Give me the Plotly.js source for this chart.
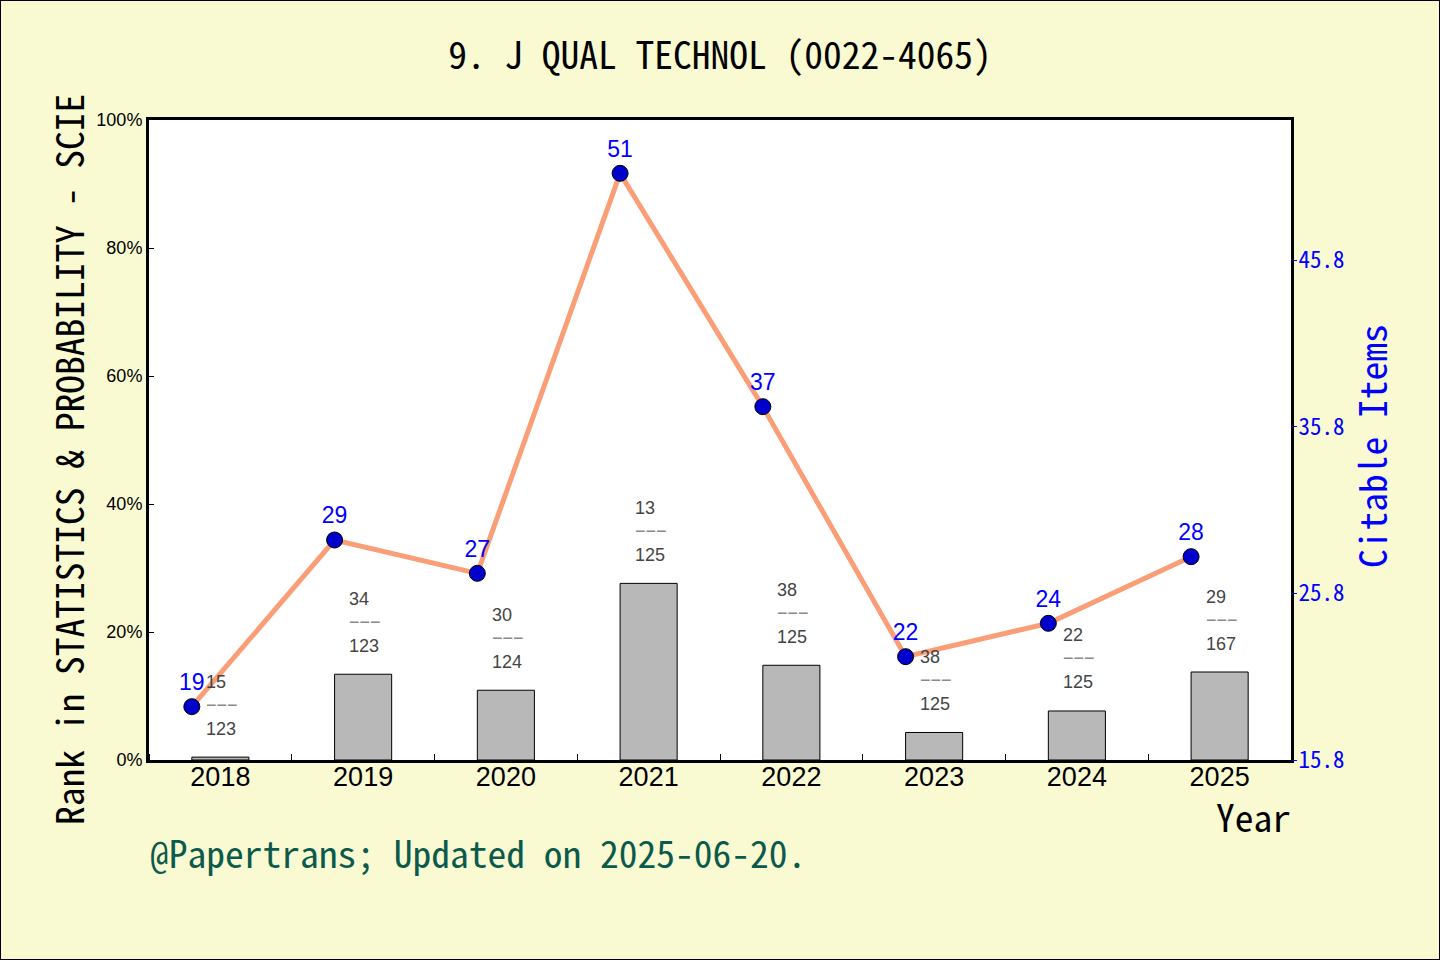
<!DOCTYPE html>
<html>
<head>
<meta charset="utf-8">
<script src="https://cdn.plot.ly/plotly-3.0.1.min.js"></script>
<style>
  html, body { margin: 0; padding: 0; background: #fafad2; }
  #wrap { position: relative; width: 1440px; height: 960px; }
  #chart { width: 1440px; height: 960px; }
  #frame { position: absolute; left: 0; top: 0; width: 1440px; height: 960px; box-sizing: border-box; border: 1px solid #000; pointer-events: none; }
</style>
</head>
<body>
<div id="wrap"><div id="chart"></div><div id="frame"></div></div>
<script>
// ---- data ----
const years = [2018, 2019, 2020, 2021, 2022, 2023, 2024, 2025];
const rankShare = [0.0045, 0.134, 0.109, 0.276, 0.148, 0.043, 0.0766, 0.1375];
const ranks = [15, 34, 30, 13, 38, 38, 22, 29];
const totals = [123, 123, 124, 125, 125, 125, 125, 167];
const citableItems = [19, 29, 27, 51, 37, 22, 24, 28];
const rightTicks = [15.8, 25.8, 35.8, 45.8];
const titleText = '9. J QUAL TECHNOL (0022-4065)';
const leftTitle = 'Rank in STATISTICS &amp; PROBABILITY - SCIE';
const rightTitle = 'Citable Items';
const footer = '@Papertrans; Updated on 2025-06-20.';

// ---- font detection ----
function hasFont(name) {
  const ctx = document.createElement('canvas').getContext('2d');
  const s = 'abcdefgWQ0123456789@;-';
  let diff = false;
  ['monospace', 'serif'].forEach(fb => {
    ctx.font = '40px ' + fb;
    const a = ctx.measureText(s).width;
    ctx.font = '40px "' + name + '", ' + fb;
    const b = ctx.measureText(s).width;
    if (a !== b) diff = true;
  });
  return diff;
}
const cjkMono = hasFont('Noto Sans Mono CJK SC');
const MONO = cjkMono ? '"Noto Sans Mono CJK SC", "DejaVu Sans Mono", monospace' : '"DejaVu Sans Mono", monospace';
const ms = s => cjkMono ? s : s * 0.5 / 0.602;
const SANS = '"Liberation Sans", Arial, sans-serif';

// ---- geometry of plot area ----
const L = 149, R = 1291, T = 120, B = 760, W = 1440, H = 960;
const px = x => (x - L) / (R - L);
const py = y => (B - y) / (B - T);

const barTrace = {
  type: 'bar', x: years, y: rankShare, width: 0.4,
  marker: { color: '#b8b8b8', line: { color: '#000', width: 1 } },
  hoverinfo: 'skip', showlegend: false
};
const lineTrace = {
  type: 'scatter', mode: 'lines+markers+text',
  x: years.map(v => v - 0.2), y: citableItems, yaxis: 'y2',
  line: { color: '#fa9e78', width: 5 },
  marker: { color: '#0000cd', size: 16, line: { color: '#000', width: 1 } },
  text: citableItems.map(String), textposition: 'top center',
  textfont: { family: SANS, size: 23, color: '#0000ff' },
  cliponaxis: false, showlegend: false, hoverinfo: 'skip'
};

const annotations = years.map((yr, i) => ({
  x: yr, y: rankShare[i], xref: 'x', yref: 'y',
  text: ranks[i] + '<br><span style="color:#8a8a8a">\u2212\u2212\u2212</span><br>' + totals[i],
  showarrow: false, xanchor: 'left', yanchor: 'middle', align: 'left',
  xshift: -16, yshift: 52,
  font: { family: SANS, size: 18, color: '#444' }
}));
annotations.push(
  { text: leftTitle, xref: 'paper', yref: 'paper', x: px(67), y: py(460), textangle: -90,
    showarrow: false, xanchor: 'center', yanchor: 'middle', font: { family: MONO, size: ms(37.5), color: '#000' } },
  { text: rightTitle, xref: 'paper', yref: 'paper', x: px(1370), y: py(446), textangle: -90,
    showarrow: false, xanchor: 'center', yanchor: 'middle', font: { family: MONO, size: ms(37.5), color: '#0000ff' } },
  { text: 'Year', xref: 'paper', yref: 'paper', x: px(1293), y: py(815),
    showarrow: false, xanchor: 'right', yanchor: 'middle', font: { family: MONO, size: ms(37.5), color: '#000' } },
  { text: footer, xref: 'paper', yref: 'paper', x: px(148), y: py(851),
    showarrow: false, xanchor: 'left', yanchor: 'middle', font: { family: MONO, size: ms(37.5), color: '#0b5a4b' } }
);

const layout = {
  width: W, height: H,
  margin: { l: L, r: W - R, t: T, b: H - B, pad: 0 },
  paper_bgcolor: '#fafad2', plot_bgcolor: '#ffffff',
  title: { text: titleText, x: 0.5, xref: 'container', y: 1 - 56 / H, yref: 'container', yanchor: 'middle', xanchor: 'center',
           font: { family: MONO, size: ms(37.5), color: '#000' } },
  showlegend: false,
  xaxis: {
    range: [2017.5, 2025.5], tickvals: years, ticktext: years.map(String),
    ticks: '', showgrid: false, zeroline: false,
    showline: true, linecolor: '#000', linewidth: 3, mirror: true,
    ticklabelstandoff: -9,
    tickfont: { family: SANS, size: 27, color: '#000' },
    minor: { tick0: 2017.5, dtick: 1, ticks: 'inside', ticklen: 6, tickcolor: '#000', tickwidth: 1, showgrid: false }
  },
  yaxis: {
    range: [0, 1], tickvals: [0, 0.2, 0.4, 0.6, 0.8, 1.0], tickformat: '.0%',
    ticks: 'inside', ticklen: 5, tickcolor: '#000', tickwidth: 1,
    showgrid: false, zeroline: false,
    showline: true, linecolor: '#000', linewidth: 3, mirror: true,
    tickfont: { family: SANS, size: 18, color: '#000' }
  },
  yaxis2: {
    overlaying: 'y', side: 'right', range: [15.8, 54.2],
    tickvals: rightTicks, ticktext: rightTicks.map(v => v.toFixed(1)),
    ticks: 'outside', ticklen: 5, tickcolor: '#0000ff', tickwidth: 1,
    showgrid: false, zeroline: false, showline: false,
    ticklabelstandoff: -3,
    tickfont: { family: MONO, size: ms(23), color: '#0000ff' }
  },
  annotations: annotations
};

Plotly.newPlot('chart', [barTrace, lineTrace], layout, { staticPlot: true, displayModeBar: false });
</script>
</body>
</html>
